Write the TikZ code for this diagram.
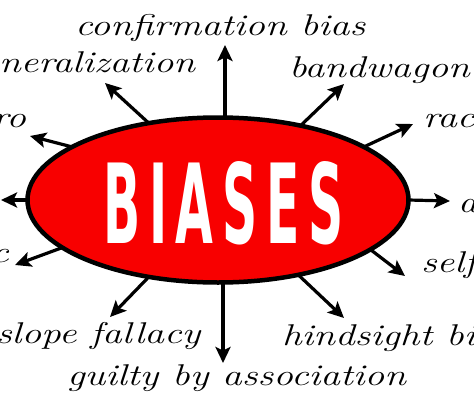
\documentclass[tikz,border=0pt]{standalone}
\usepackage{fontspec}
\newfontfamily\bigfont{DejaVu Sans Condensed}[LetterSpace=16]
\usetikzlibrary{arrows.meta,shapes.geometric}
\definecolor{biasred}{RGB}{248,0,0}
\newcommand{\hand}[1]{\scalebox{1.31}[1]{\fontsize{30}{30}\selectfont\itshape #1}}
\pgfdeclarelayer{bg}
\pgfsetlayers{bg,main}
\begin{document}
\begin{tikzpicture}[x=1pt,y=-1pt,
  lbl/.style={anchor=base west, inner sep=0pt, outer sep=0pt, text=black},
  arr/.style={line width=3.2pt, -{Stealth[length=16pt,width=15pt,inset=3.5pt]}},
  blob/.style={ellipse, draw=black, line width=4.5pt, fill=biasred, minimum width=381pt, minimum height=165pt, inner sep=0pt, outer sep=0pt}]
\useasboundingbox (0,0) rectangle (474,402);
\clip (0,0) rectangle (474,402);
\node[blob] (E) at (218,200) {};
\node[anchor=base west, inner sep=0pt, text=white] (T) at (103,243) {\resizebox{240pt}{82pt}{\bigfont\bfseries BIASES}};
% tips
\coordinate (t1) at (225,45);
\coordinate (t2) at (105,83);
\coordinate (t3) at (30,136);
\coordinate (t4) at (1,200);
\coordinate (t5) at (15,265);
\coordinate (t6) at (110,317);
\coordinate (t7) at (223,363);
\coordinate (t8) at (344,318);
\coordinate (t9) at (405,276);
\coordinate (t10) at (450,201);
\coordinate (t11) at (413,124);
\coordinate (t12) at (344,84);
\begin{pgfonlayer}{bg}
\fill[white] (0,0) rectangle (474,402);
\draw[arr] (t1 |- E.north) -- (t1);
\draw[arr] (E.132.5) -- (t2);
\draw[arr] (E.160.5) -- (t3);
\draw[arr] (E.west) -- (t4);
\draw[arr] (E.-163) -- (t5);
\draw[arr] (E.-132.8) -- (t6);
\draw[arr] (t7 |- E.south) -- (t7);
\draw[arr] (E.-43.2) -- (t8);
\draw[arr] (E.-18.2) -- (t9);
\draw[arr] (E.east) -- (t10);
\draw[arr] (E.20.3) -- (t11);
\draw[arr] (E.42.9) -- (t12);
\end{pgfonlayer}
% labels
\node[lbl] (l1) at (75,35) {\hand{confirmation bias}};
\node[lbl] (l2) at (-1,72) {\hand{neralization}};
\node[lbl] (l3) at (289,77) {\hand{bandwagon}};
\node[lbl] (l4) at (-8,127) {\hand{ro}};
\node[lbl] (l5) at (423,127) {\hand{rac}};
\node[lbl] (l6) at (458,212) {\hand{a}};
\node[lbl] (l7) at (421,272) {\hand{self}};
\node[lbl] (l8) at (-9,262) {\hand{c}};
\node[lbl] (l9) at (282,345) {\hand{hindsight bi}};
\node[lbl] (l10) at (-4,343) {\hand{slope fallacy}};
\node[lbl] (l11) at (67,385) {\hand{guilty by association}};
\end{tikzpicture}
\end{document}
